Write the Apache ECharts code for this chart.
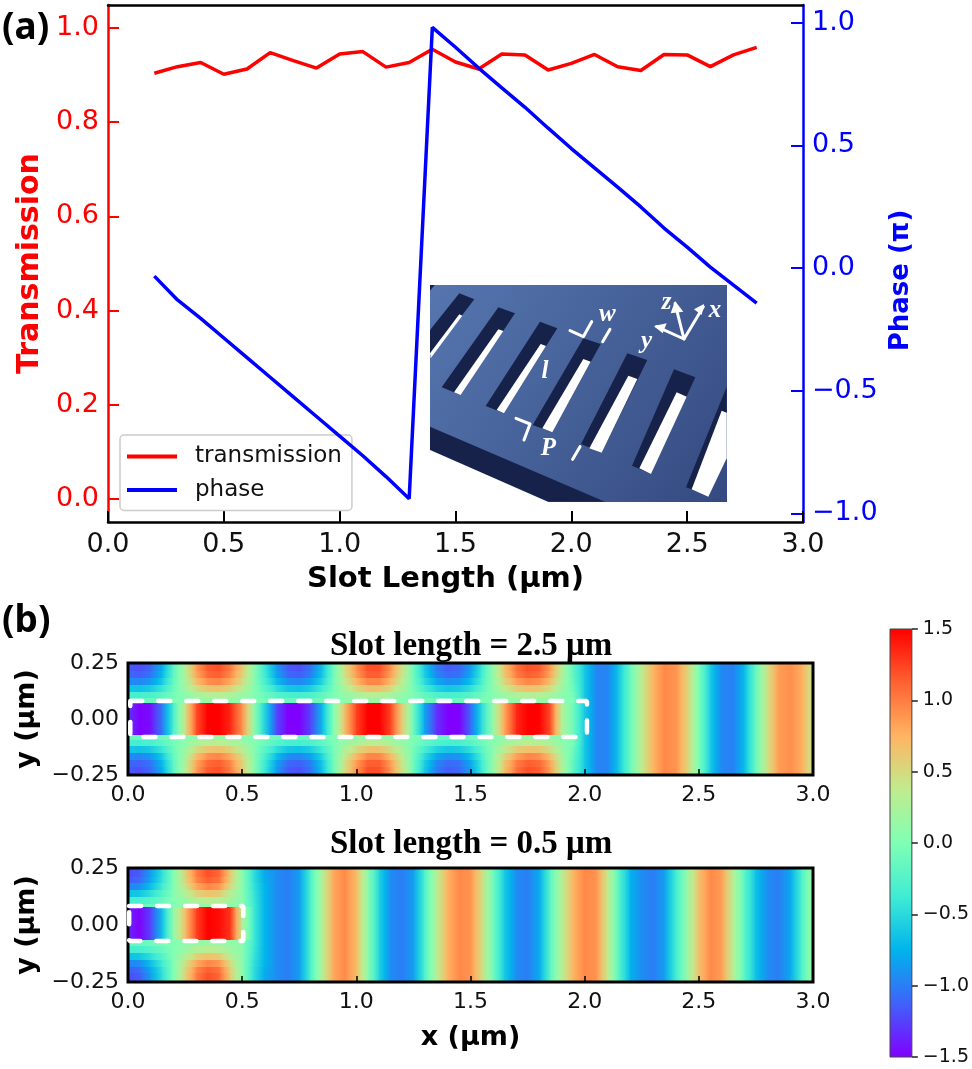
<!DOCTYPE html>
<html>
<head>
<meta charset="utf-8">
<style>
  html, body { margin: 0; padding: 0; background: #fff; }
  #chart { width: 972px; height: 1069px; }
</style>
<script src="https://cdn.jsdelivr.net/npm/echarts@6/dist/echarts.min.js"></script>
</head>
<body>
<div id="chart"></div>
<script>
// panel (a): values
const slotLengths = [0.2, 0.3, 0.4, 0.5, 0.6, 0.7, 0.8, 0.9, 1.0, 1.1, 1.2, 1.3, 1.4, 1.5, 1.6, 1.7, 1.8, 1.9, 2.0, 2.1, 2.2, 2.3, 2.4, 2.5, 2.6, 2.7, 2.8]
const transmission = [0.904, 0.918, 0.927, 0.902, 0.913, 0.948, 0.931, 0.915, 0.945, 0.950, 0.917, 0.927, 0.955, 0.928, 0.913, 0.945, 0.943, 0.911, 0.925, 0.944, 0.918, 0.910, 0.944, 0.943, 0.918, 0.943, 0.959]
const phase = [-0.033, -0.13, -0.205, -0.285, -0.365, -0.445, -0.525, -0.605, -0.685, -0.765, -0.85, -0.94, 0.981, 0.90, 0.815, 0.734, 0.655, 0.57, 0.487, 0.408, 0.33, 0.249, 0.163, 0.085, 0.004, -0.07, -0.143]
const transmissionTicks = [0, 0.2, 0.4, 0.6, 0.8, 1.0]
const phaseTicks = [-1, -0.5, 0, 0.5, 1]

// panel (b): field samples, one every 0.05 um along x
const fieldX = [0, 0.05, 0.1, 0.15, 0.2, 0.25, 0.3, 0.35, 0.4, 0.45, 0.5, 0.55, 0.6, 0.65, 0.7, 0.75, 0.8, 0.85, 0.9, 0.95, 1, 1.05, 1.1, 1.15, 1.2, 1.25, 1.3, 1.35, 1.4, 1.45, 1.5, 1.55, 1.6, 1.65, 1.7, 1.75, 1.8, 1.85, 1.9, 1.95, 2, 2.05, 2.1, 2.15, 2.2, 2.25, 2.3, 2.35, 2.4, 2.45, 2.5, 2.55, 2.6, 2.65, 2.7, 2.75, 2.8, 2.85, 2.9, 2.95, 3]

// slot length 2.5: row through the slot, it is also the free wave past the slot end
const topSlot = [-1.3, -1.5, -1.45, -1, -0.3, 0.45, 1.2, 1.5, 1.5, 1.35, 0.9, 0.15, -0.55, -1.2, -1.5, -1.5, -1.25, -0.7, 0, 0.65, 1.25, 1.5, 1.5, 1.25, 0.6, -0.1, -0.8, -1.3, -1.5, -1.5, -1.1, -0.5, 0.15, 0.8, 1.35, 1.5, 1.5, 1.2, 0.3, -0.1, -0.6, -0.96, -0.98, -0.65, -0.12, 0.35, 0.75, 0.95, 0.9, 0.55, 0, -0.6, -0.96, -0.98, -0.7, -0.15, 0.45, 0.85, 0.92, 0.78, 0.4]
// rows above the slot, from the panel edge towards the slot (mirrored below it)
const topOuter1 = [-1.15, -1.2, -1.1, -0.75, -0.2, 0.3, 0.85, 1.15, 1.2, 1, 0.6, 0.1, -0.4, -0.85, -1.15, -1.2, -1.05, -0.65, -0.1, 0.45, 0.9, 1.2, 1.2, 0.9, 0.45, -0.1, -0.6, -1, -1.15, -1.1, -0.85, -0.4, 0.15, 0.65, 1.05, 1.2, 1.15, 0.85, 0.3, -0.2]
const topOuter2 = [-1.09, -1.14, -1.05, -0.71, -0.19, 0.29, 0.81, 1.09, 1.14, 0.95, 0.57, 0.1, -0.38, -0.81, -1.09, -1.14, -1, -0.62, -0.1, 0.43, 0.86, 1.14, 1.14, 0.86, 0.43, -0.1, -0.57, -0.95, -1.09, -1.05, -0.81, -0.38, 0.14, 0.62, 1, 1.14, 1.09, 0.81, 0.29, -0.19]
const topOuter3 = [-0.92, -0.96, -0.88, -0.6, -0.16, 0.24, 0.68, 0.92, 0.96, 0.8, 0.48, 0.08, -0.32, -0.68, -0.92, -0.96, -0.84, -0.52, -0.08, 0.36, 0.72, 0.96, 0.96, 0.72, 0.36, -0.08, -0.48, -0.8, -0.92, -0.88, -0.68, -0.32, 0.12, 0.52, 0.84, 0.96, 0.92, 0.68, 0.24, -0.16]
const topOuter4 = [-0.63, -0.66, -0.6, -0.41, -0.11, 0.17, 0.47, 0.63, 0.66, 0.55, 0.33, 0.06, -0.22, -0.47, -0.63, -0.66, -0.58, -0.36, -0.06, 0.25, 0.5, 0.66, 0.66, 0.5, 0.25, -0.06, -0.33, -0.55, -0.63, -0.6, -0.47, -0.22, 0.08, 0.36, 0.58, 0.66, 0.63, 0.47, 0.17, -0.11]
const topOuter5 = [-0.32, -0.34, -0.31, -0.21, -0.06, 0.08, 0.24, 0.32, 0.34, 0.28, 0.17, 0.03, -0.11, -0.24, -0.32, -0.34, -0.29, -0.18, -0.03, 0.13, 0.25, 0.34, 0.34, 0.25, 0.13, -0.03, -0.17, -0.28, -0.32, -0.31, -0.24, -0.11, 0.04, 0.18, 0.29, 0.34, 0.32, 0.24, 0.08, -0.06]
const topOuter6 = [-0.14, -0.14, -0.13, -0.09, -0.02, 0.04, 0.1, 0.14, 0.14, 0.12, 0.07, 0.01, -0.05, -0.1, -0.14, -0.14, -0.13, -0.08, -0.01, 0.05, 0.11, 0.14, 0.14, 0.11, 0.05, -0.01, -0.07, -0.12, -0.14, -0.13, -0.1, -0.05, 0.02, 0.08, 0.13, 0.14, 0.14, 0.1, 0.04, -0.02]

// slot length 0.5
const bottomSlot = [-1.35, -1.5, -1.25, -0.65, 0.1, 0.7, 1.25, 1.5, 1.45, 1.3, 0.3, -0.35, -0.75, -0.93, -1, -0.85, -0.3, 0.3, 0.8, 0.95, 0.7, 0.1, -0.55, -0.93, -1, -0.85, -0.3, 0.3, 0.75, 0.95, 0.9, 0.5, -0.1, -0.6, -0.93, -1, -0.8, -0.2, 0.3, 0.75, 0.95, 0.9, 0.4, -0.2, -0.75, -0.93, -1, -0.85, -0.35, 0.15, 0.65, 0.95, 0.85, 0.3, -0.2, -0.65, -0.93, -1, -0.8, -0.3, 0.2]
const bottomOuter1 = [-1.2, -1.15, -0.85, -0.45, 0, 0.55, 1, 1.2, 1.1, 0.6, 0.05, -0.45, -0.8]
const bottomOuter2 = [-1.14, -1.09, -0.81, -0.43, 0, 0.52, 0.95, 1.14, 1.05, 0.57, 0.05, -0.45, -0.78]
const bottomOuter3 = [-0.96, -0.92, -0.68, -0.36, 0, 0.44, 0.8, 0.96, 0.88, 0.48, 0.05, -0.43, -0.75]
const bottomOuter4 = [-0.66, -0.63, -0.47, -0.25, 0.02, 0.3, 0.55, 0.66, 0.6, 0.33, 0.05, -0.4, -0.75]
const bottomOuter5 = [-0.34, -0.32, -0.24, -0.13, 0.02, 0.15, 0.28, 0.34, 0.31, 0.2, 0.05, -0.38, -0.75]
const bottomOuter6 = [-0.14, -0.14, -0.1, -0.05, 0.02, 0.07, 0.12, 0.14, 0.13, 0.1, 0.05, -0.35, -0.75]

// dashed outlines of the slots, in um
const topBoxX = [0.01, 2.01, 2.01, 0.01, 0.01]
const topBoxY = [0.08, 0.08, -0.08, -0.08, 0.08]
const bottomBoxX = [0.005, 0.505, 0.505, 0.005, 0.005]
const bottomBoxY = [0.083, 0.083, -0.07, -0.07, 0.083]

const rainbowStops = ['#8000ff', '#4062fa', '#00b4ec', '#40ecd4', '#80ffb4', '#c0ec8e', '#ffb462', '#ff6232', '#ff0000']

const sans = 'DejaVu Sans'
const oneDecimal = v => v.toFixed(1).replace('-', '\u2212')
const twoDecimals = v => v.toFixed(2).replace('-', '\u2212')
const colorAt = v => echarts.color.lerp(Math.min(1, Math.max(0, (v + 1.5) / 3)), rainbowStops)

function buildCells(slot, outerRows, slotTop, slotBottom) {
  const upper = [0.25, 0.21, 0.18, 0.15, 0.12, 0.09, slotTop]
  const lower = [-0.25, -0.21, -0.18, -0.15, -0.12, -0.09, slotBottom]
  const cells = []
  for (let i = 0; i < fieldX.length - 1; i++) {
    outerRows.forEach((row, j) => {
      const v0 = i < row.length ? row[i] : slot[i]
      const v1 = i + 1 < row.length ? row[i + 1] : slot[i + 1]
      cells.push([fieldX[i], fieldX[i + 1], upper[j + 1], upper[j], v0, v1])
      cells.push([fieldX[i], fieldX[i + 1], lower[j], lower[j + 1], v0, v1])
    })
    cells.push([fieldX[i], fieldX[i + 1], slotBottom, slotTop, slot[i], slot[i + 1]])
  }
  return cells
}

function renderCell(params, api) {
  const a = api.coord([api.value(0), api.value(3)])
  const b = api.coord([api.value(1), api.value(2)])
  const v0 = api.value(4)
  const v1 = api.value(5)
  // snap to whole pixels so neighbouring cells leave no seams
  const left = Math.floor(a[0])
  const top = Math.floor(a[1])
  return {
    type: 'rect',
    shape: { x: left, y: top, width: Math.ceil(b[0]) - left, height: Math.ceil(b[1]) - top },
    style: {
      fill: {
        type: 'linear', x: 0, y: 0, x2: 1, y2: 0,
        colorStops: [
          { offset: 0, color: colorAt(v0) },
          { offset: 0.5, color: colorAt((v0 + v1) / 2) },
          { offset: 1, color: colorAt(v1) }
        ]
      }
    }
  }
}

function renderColorbar(params, api) {
  const a = api.coord([0, 1.5])
  const b = api.coord([1, -1.5])
  return {
    type: 'rect',
    shape: { x: a[0], y: a[1], width: b[0] - a[0], height: b[1] - a[1] },
    style: {
      fill: {
        type: 'linear', x: 0, y: 1, x2: 0, y2: 0,
        colorStops: rainbowStops.map((c, i) => ({ offset: i / (rainbowStops.length - 1), color: c }))
      }
    }
  }
}

// sketch of the metasurface, positions are in the zoomed inset frame
const ix = x => 420 + x / 3
const iy = y => 270 + y / 3
const pts = list => list.map(p => [ix(p[0]), iy(p[1])])
const poly = (list, fill) => ({ type: 'polygon', z: 20, silent: true, shape: { points: pts(list) }, style: { fill } })
const white = list => ({ type: 'polyline', z: 21, silent: true, shape: { points: pts(list) }, style: { stroke: '#fff', lineWidth: 3, lineCap: 'round', lineJoin: 'round', fill: null } })
const label = (text, x, y) => ({ type: 'text', z: 22, silent: true, style: { text, x: ix(x), y: iy(y), fill: '#fff', font: 'italic bold 25px "Liberation Serif"', align: 'center', verticalAlign: 'middle' } })
const dark = '#16224a'
const insetGraphics = [
  {
    type: 'rect', z: 19, silent: true,
    shape: { x: 430, y: 285, width: 297, height: 217 },
    style: { fill: { type: 'linear', x: 0, y: 0, x2: 1, y2: 1, colorStops: [{ offset: 0, color: '#5676af' }, { offset: 1, color: '#344a80' }] } }
  },
  poly([[30, 470], [555, 695], [385, 695], [30, 540]], dark),
  poly([[30, 540], [385, 696], [30, 696]], '#fff'),
  poly([[30, 45], [44, 45], [30, 62]], dark),
  poly([[118, 70], [163, 88], [30, 262], [30, 180]], dark),
  poly([[118, 133], [127, 137], [32, 265], [30, 250]], '#fff'),
  poly([[235, 112], [285, 130], [122, 375], [65, 352]], dark),
  poly([[235, 178], [250, 183], [122, 375], [102, 367]], '#fff'),
  poly([[360, 155], [412, 175], [252, 430], [197, 408]], dark),
  poly([[362, 222], [378, 228], [252, 430], [230, 420]], '#fff'),
  poly([[490, 205], [542, 222], [397, 487], [338, 465]], dark),
  poly([[490, 267], [512, 275], [397, 487], [367, 475]], '#fff'),
  poly([[622, 250], [682, 270], [545, 548], [483, 522]], dark),
  poly([[625, 317], [652, 327], [545, 548], [508, 535]], '#fff'),
  poly([[762, 298], [826, 322], [693, 612], [636, 587]], dark),
  poly([[770, 367], [800, 380], [693, 612], [658, 595]], '#fff'),
  poly([[920, 350], [920, 425], [815, 658], [798, 652]], dark),
  poly([[905, 422], [920, 428], [920, 565], [865, 680], [815, 658]], '#fff'),
  white([[450, 182], [490, 200], [515, 155]]),
  white([[570, 178], [548, 215]]),
  white([[288, 445], [330, 462], [312, 510]]),
  white([[480, 530], [458, 568]]),
  white([[850, 110], [792, 207], [765, 100]]),
  white([[792, 207], [710, 170]]),
  poly([[852, 102], [822, 118], [845, 135]], '#fff'),
  poly([[765, 93], [752, 130], [790, 125]], '#fff'),
  poly([[702, 168], [740, 160], [728, 190]], '#fff'),
  label('w', 562, 135),
  label('l', 375, 305),
  label('P', 385, 535),
  label('z', 740, 97),
  label('x', 885, 123),
  label('y', 680, 215)
]

const pageText = (text, left, top, font, size, weight) => ({
  text, left, top, textStyle: { fontFamily: font, fontSize: size, fontWeight: weight, color: '#000' }, padding: 0
})

function panelXAxis(gridIndex, name) {
  return {
    type: 'value', gridIndex, min: 0, max: 3, interval: 0.5, z: 7,
    name, nameLocation: 'middle', nameGap: 42,
    nameTextStyle: { fontFamily: sans, fontSize: 27, fontWeight: 'bold', color: '#000' },
    axisLine: { show: false, onZero: false },
    axisTick: { show: true, inside: true, length: 6, lineStyle: { color: '#000', width: 1.5 } },
    axisLabel: { fontFamily: sans, fontSize: 22, color: '#111', margin: 9, formatter: oneDecimal, hideOverlap: false },
    splitLine: { show: false }
  }
}

function panelYAxis(gridIndex) {
  return {
    type: 'value', gridIndex, min: -0.25, max: 0.25, interval: 0.25, z: 7,
    name: 'y (\u03bcm)', nameLocation: 'middle', nameGap: 86,
    nameTextStyle: { fontFamily: sans, fontSize: 27, fontWeight: 'bold', color: '#000' },
    axisLine: { show: false, onZero: false },
    axisTick: { show: false },
    axisLabel: { fontFamily: sans, fontSize: 22, color: '#111', margin: 9, formatter: twoDecimals, hideOverlap: false },
    splitLine: { show: false }
  }
}

function boxSeries(xs, ys, xAxisIndex, yAxisIndex) {
  return {
    type: 'line', xAxisIndex, yAxisIndex, z: 6, silent: true, showSymbol: false, clip: false,
    data: xs.map((x, i) => [x, ys[i]]),
    lineStyle: { color: '#fff', width: 4.5, type: [12, 16], cap: 'round' }
  }
}

const option = {
  animation: false,
  backgroundColor: '#fff',
  title: [
    pageText('(a)', 2, 10, 'Noto Sans', 37, 'bold'),
    pageText('(b)', 2, 603, 'Noto Sans', 37, 'bold'),
    pageText('Slot length = 2.5 \u03bcm', 330, 630, 'Liberation Serif', 33, 'bold'),
    pageText('Slot length = 0.5 \u03bcm', 330, 828, 'Liberation Serif', 33, 'bold')
  ],
  legend: {
    data: ['transmission', 'phase'],
    orient: 'vertical', left: 120, top: 435,
    padding: [10, 10, 9, 7], itemGap: 10.5, itemWidth: 50, itemHeight: 4, icon: 'rect',
    borderColor: '#ccc', borderWidth: 1.5, borderRadius: 4,
    textStyle: { fontFamily: sans, fontSize: 23, color: '#111', padding: [0, 0, 0, 13] }
  },
  grid: [
    { left: 108, top: 5, width: 695, height: 517 },
    { left: 128, top: 663, width: 685, height: 112, show: true, z: 5, borderColor: '#000', borderWidth: 3, backgroundColor: 'transparent' },
    { left: 128, top: 868, width: 685, height: 114, show: true, z: 5, borderColor: '#000', borderWidth: 3, backgroundColor: 'transparent' },
    { left: 890, top: 629, width: 22, height: 428, show: true, z: 5, borderColor: '#444', borderWidth: 1, backgroundColor: 'transparent' }
  ],
  xAxis: [
    {
      type: 'value', gridIndex: 0, min: 0, max: 3, interval: 0.5,
      name: 'Slot Length (\u03bcm)', nameLocation: 'middle', nameGap: 43,
      nameTextStyle: { fontFamily: sans, fontSize: 29, fontWeight: 'bold', color: '#000', padding: [0, 20, 0, 0] },
      axisLine: { onZero: false, lineStyle: { color: '#000', width: 2.5 } },
      axisTick: { inside: true, length: 11, lineStyle: { color: '#000', width: 2 } },
      axisLabel: { fontFamily: sans, fontSize: 27, color: '#111', margin: 9, formatter: oneDecimal, hideOverlap: false },
      splitLine: { show: false }
    },
    {
      type: 'value', gridIndex: 0, position: 'top', min: 0, max: 3,
      axisLine: { onZero: false, lineStyle: { color: '#000', width: 2.5 } },
      axisTick: { show: false }, axisLabel: { show: false }, splitLine: { show: false }
    },
    panelXAxis(1, ''),
    panelXAxis(2, 'x (\u03bcm)'),
    { type: 'value', gridIndex: 3, min: 0, max: 1, show: false }
  ],
  yAxis: [
    {
      type: 'value', gridIndex: 0, min: -0.049, max: 1.049, position: 'left',
      name: 'Transmission', nameLocation: 'middle', nameGap: 62,
      nameTextStyle: { fontFamily: sans, fontSize: 30, fontWeight: 'bold', color: '#ff0000' },
      axisLine: { onZero: false, lineStyle: { color: '#ff0000', width: 2.5 } },
      axisTick: { inside: true, length: 11, customValues: transmissionTicks, lineStyle: { color: '#ff0000', width: 2 } },
      axisLabel: { fontFamily: sans, fontSize: 27, color: '#ff0000', margin: 9, customValues: transmissionTicks, formatter: oneDecimal },
      splitLine: { show: false }
    },
    {
      type: 'value', gridIndex: 0, min: -1.035, max: 1.072, position: 'right',
      name: 'Phase (\u03c0)', nameLocation: 'middle', nameGap: 84, nameRotate: 90,
      nameTextStyle: { fontFamily: sans, fontSize: 26, fontWeight: 'bold', color: '#0000ff', padding: [0, 34, 0, 0] },
      axisLine: { onZero: false, lineStyle: { color: '#0000ff', width: 2.5 } },
      axisTick: { inside: true, length: 12, customValues: phaseTicks, lineStyle: { color: '#0000ff', width: 2 } },
      axisLabel: { fontFamily: sans, fontSize: 27, color: '#0000ff', margin: 9, customValues: phaseTicks, formatter: oneDecimal },
      splitLine: { show: false }
    },
    panelYAxis(1),
    panelYAxis(2),
    {
      type: 'value', gridIndex: 3, min: -1.5, max: 1.5, interval: 0.5, position: 'right', z: 7,
      axisLine: { show: false, onZero: false },
      axisTick: { show: true, length: 6, lineStyle: { color: '#222', width: 1.5 } },
      axisLabel: { fontFamily: sans, fontSize: 19, color: '#111', margin: 11, formatter: oneDecimal },
      splitLine: { show: false }
    }
  ],
  series: [
    {
      name: 'transmission', type: 'line', xAxisIndex: 0, yAxisIndex: 0, showSymbol: false, z: 4,
      data: slotLengths.map((x, i) => [x, transmission[i]]),
      itemStyle: { color: '#ff0000' }, lineStyle: { color: '#ff0000', width: 3.5 }
    },
    {
      name: 'phase', type: 'line', xAxisIndex: 0, yAxisIndex: 1, showSymbol: false, z: 4,
      data: slotLengths.map((x, i) => [x, phase[i]]),
      itemStyle: { color: '#0000ff' }, lineStyle: { color: '#0000ff', width: 3.5 }
    },
    {
      type: 'custom', xAxisIndex: 2, yAxisIndex: 2, clip: true, silent: true, z: 2, renderItem: renderCell,
      data: buildCells(topSlot, [topOuter1, topOuter2, topOuter3, topOuter4, topOuter5, topOuter6], 0.07, -0.07)
    },
    {
      type: 'custom', xAxisIndex: 3, yAxisIndex: 3, clip: true, silent: true, z: 2, renderItem: renderCell,
      data: buildCells(bottomSlot, [bottomOuter1, bottomOuter2, bottomOuter3, bottomOuter4, bottomOuter5, bottomOuter6], 0.075, -0.062)
    },
    boxSeries(topBoxX, topBoxY, 2, 2),
    boxSeries(bottomBoxX, bottomBoxY, 3, 3),
    {
      type: 'custom', xAxisIndex: 4, yAxisIndex: 4, silent: true, z: 2, renderItem: renderColorbar,
      data: [[0, 0]]
    }
  ],
  graphic: insetGraphics
}

const chart = echarts.init(document.getElementById('chart'))
chart.setOption(option)
</script>
</body>
</html>
